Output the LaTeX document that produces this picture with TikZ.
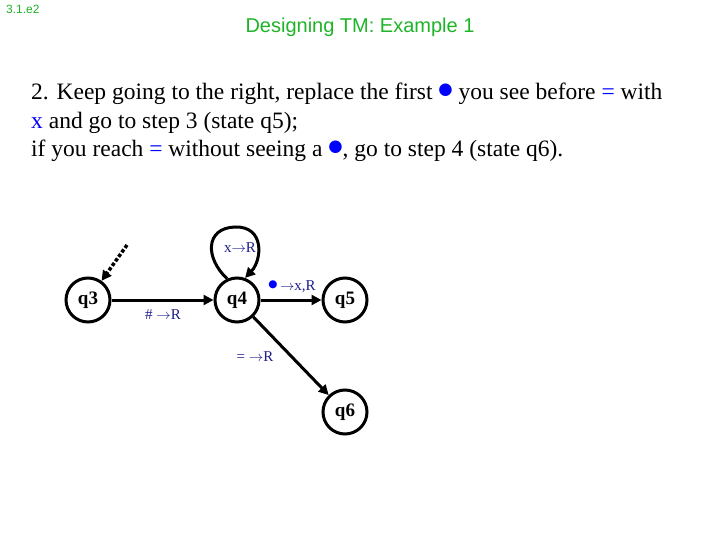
\documentclass[tikz,border=0pt]{standalone}
\usepackage{fontspec}
\setmainfont{Liberation Serif}
\newfontfamily\sansf{Liberation Sans}
\newfontfamily\dejav{DejaVu Sans}
\usetikzlibrary{arrows.meta}
\definecolor{tgreen}{RGB}{30,180,40}
\definecolor{lblue}{RGB}{30,30,140}
\newcommand{\bdot}{{\dejav\textcolor{blue}{\raisebox{0.22em}{\scalebox{0.7}{●}}}}}
\begin{document}
\begin{tikzpicture}[x=1pt,y=-1pt,
  st/.style={circle,draw,line width=3pt,minimum size=44pt,inner sep=0pt,font=\fontsize{19}{19}\selectfont\bfseries},
  tr/.style={line width=3pt,-{Triangle[length=10pt,width=10pt]}},
  lb/.style={text=lblue,font=\fontsize{15}{15}\selectfont,inner sep=1pt}]
\useasboundingbox (0,0) rectangle (720,540);
\node[anchor=north west,text=tgreen,font=\sansf\fontsize{12}{12}\selectfont,inner sep=0pt] (tag) at (6,5) {3.1.e2};
\node[text=tgreen,font=\sansf\fontsize{20}{20}\selectfont] (title) at (360,27) {Designing TM: Example 1};
\node[anchor=base west,font=\fontsize{23.5}{23.5}\selectfont,inner sep=0pt] (l1) at (31,100) {2. Keep going to the right, replace the first \bdot\ you see before \textcolor{blue}{=} with};
\node[anchor=base west,font=\fontsize{23.5}{23.5}\selectfont,inner sep=0pt] (l2) at (31,129) {\textcolor{blue}{x} and go to step 3 (state q5);};
\node[anchor=base west,font=\fontsize{23.5}{23.5}\selectfont,inner sep=0pt] (l3) at (31,157) {if you reach \textcolor{blue}{=} without seeing a \bdot, go to step 4 (state q6).};
\node[st] (q3) at (88,300) {q3};
\node[st] (q4) at (237,300) {q4};
\node[st] (q5) at (345,300) {q5};
\node[st] (q6) at (345,412) {q6};
\coordinate (in) at (127,245);
\draw[line width=3.5pt,dotted,-{Triangle[length=10pt,width=10pt]}] (in) -- (q3);
\draw[tr] (q3) -- (q4);
\draw[tr] (q4) -- (q5);
\draw[tr] (q4) -- (q6);
\draw[tr] (q4.115) .. controls (205,258) and (205,228) .. (235,227) .. controls (265,226) and (262,260) .. (q4.70);
\node[lb] (lx) at (240,248) {x$\rightarrow$R};
\node[lb] (lh) at (163,315) {\# $\rightarrow$R};
\node[lb] (ld) at (292,287) {\bdot\,$\rightarrow$x,R};
\node[lb] (le) at (255,357) {= $\rightarrow$R};
\end{tikzpicture}
\end{document}
